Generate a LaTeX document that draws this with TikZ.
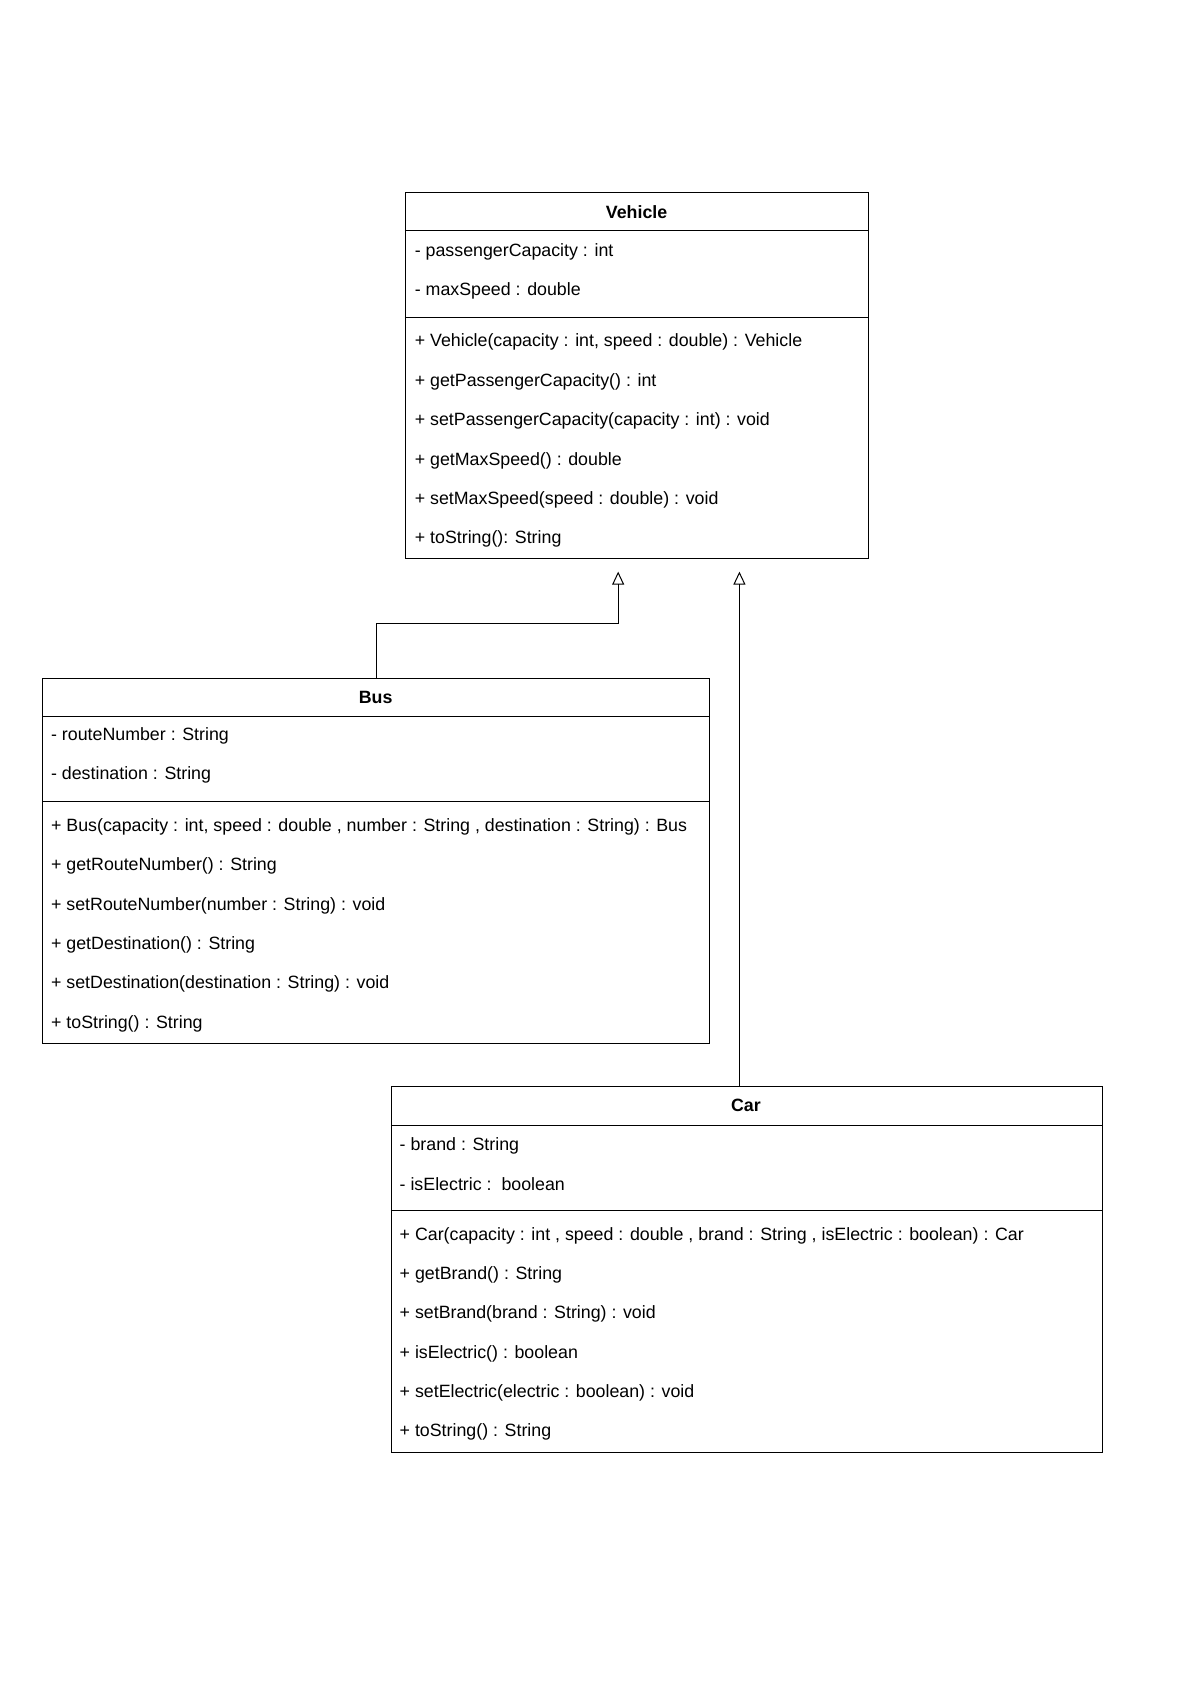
\documentclass[tikz,border=0pt]{standalone}
\usepackage{fontspec}
\setmainfont{Liberation Sans}
\usetikzlibrary{arrows.meta}
\begin{document}
\begin{tikzpicture}[x=1.0826pt,y=-1.0826pt,
  box/.style={draw,line width=1pt,anchor=north west,inner sep=0pt},
  sep/.style={line width=1pt},
  row/.style={anchor=west,inner sep=0pt,font=\fontsize{17.8}{20}\selectfont},
  ttl/.style={inner sep=0pt,font=\fontsize{17.8}{20}\selectfont\bfseries},
  gen/.style={line width=1pt,-{Triangle[open,width=12pt,length=13pt]}}]
\useasboundingbox (0,0) rectangle (1108.5,1566.6);
% Vehicle
\node[box,minimum width=463.4pt,minimum height=365.9pt] (veh) at (374,177) {};
\draw[sep] (374,213) -- (802,213) (374,293) -- (802,293);
\node[ttl] (vt) at (588,196) {Vehicle};
\node[row] (v1) at (383,233) {- passengerCapacity : int};
\node[row] (v2) at (383,269) {- maxSpeed : double};
\node[row] (v3) at (383,316) {+ Vehicle(capacity : int, speed : double) : Vehicle};
\node[row] (v4) at (383,353) {+ getPassengerCapacity() : int};
\node[row] (v5) at (383,389) {+ setPassengerCapacity(capacity : int) : void};
\node[row] (v6) at (383,426) {+ getMaxSpeed() : double};
\node[row] (v7) at (383,462) {+ setMaxSpeed(speed : double) : void};
\node[row] (v8) at (383,498) {+ toString(): String};
% Bus
\node[box,minimum width=666.9pt,minimum height=364.8pt] (bus) at (39,626) {};
\draw[sep] (39,662) -- (655,662) (39,740) -- (655,740);
\node[ttl] (bt) at (347,644) {Bus};
\node[row] (b1) at (47,680) {- routeNumber : String};
\node[row] (b2) at (47,716) {- destination : String};
\node[row] (b3) at (47,764) {+ Bus(capacity : int, speed : double , number : String , destination : String) : Bus};
\node[row] (b4) at (47,800) {+ getRouteNumber() : String};
\node[row] (b5) at (47,837) {+ setRouteNumber(number : String) : void};
\node[row] (b6) at (47,873) {+ getDestination() : String};
\node[row] (b7) at (47,909) {+ setDestination(destination : String) : void};
\node[row] (b8) at (47,946) {+ toString() : String};
% Car
\node[box,minimum width=711.3pt,minimum height=365.9pt] (car) at (361,1003) {};
\draw[sep] (361,1040) -- (1018,1040) (361,1118) -- (1018,1118);
\node[ttl] (ct) at (689,1021) {Car};
\node[row] (c1) at (369,1058) {- brand : String};
\node[row] (c2) at (369,1094) {- isElectric :\ \ boolean};
\node[row] (c3) at (369,1142) {+ Car(capacity : int , speed : double , brand : String , isElectric : boolean) : Car};
\node[row] (c4) at (369,1178) {+ getBrand() : String};
\node[row] (c5) at (369,1214) {+ setBrand(brand : String) : void};
\node[row] (c6) at (369,1251) {+ isElectric() : boolean};
\node[row] (c7) at (369,1287) {+ setElectric(electric : boolean) : void};
\node[row] (c8) at (369,1323) {+ toString() : String};
% connectors
\coordinate (t1) at (571,528);
\coordinate (bend) at (571,576);
\coordinate (t2) at (683,528);
\coordinate (carTop) at (683,1003);
\draw[gen] (bus.north) |- (bend) -- (t1);
\draw[gen] (carTop) -- (t2);
\end{tikzpicture}
\end{document}
